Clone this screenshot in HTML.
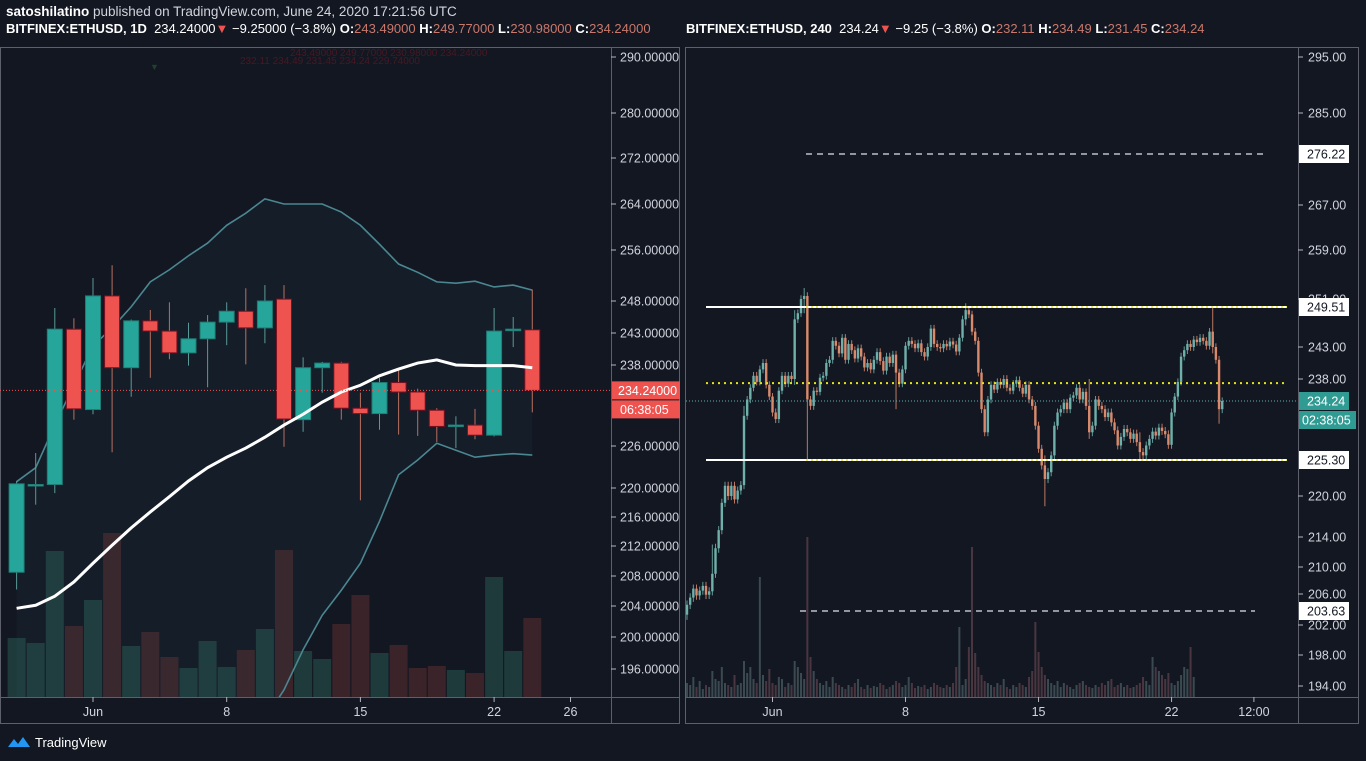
<!DOCTYPE html>
<html><head><meta charset="utf-8">
<style>
html,body{margin:0;background:#131722;width:1366px;height:761px;overflow:hidden;font-family:"Liberation Sans",sans-serif;}
#wrap{position:relative;width:1366px;height:761px;overflow:hidden;}
.hdr{position:absolute;left:6px;color:#d1d4dc;font-size:13.5px;white-space:nowrap;}
.hdr b{color:#fff}
.red{color:#c9786c}
#svg{position:absolute;left:0;top:0}
</style></head>
<body><div id="wrap">
<div class="hdr" style="top:4px"><b>satoshilatino</b> published on TradingView.com, June 24, 2020 17:21:56 UTC</div>
<div class="hdr" style="top:21px;font-weight:bold;color:#fff;font-size:13px">BITFINEX:ETHUSD, 1D&nbsp; <span style="font-weight:normal">234.24000</span><span style="color:#ef5350">▼</span> <span style="font-weight:normal">−9.25000 (−3.8%)</span> O:<span class="red" style="font-weight:normal">243.49000</span> H:<span class="red" style="font-weight:normal">249.77000</span> L:<span class="red" style="font-weight:normal">230.98000</span> C:<span class="red" style="font-weight:normal">234.24000</span></div>
<div class="hdr" style="top:21px;left:686px;font-weight:bold;color:#fff;font-size:13px">BITFINEX:ETHUSD, 240&nbsp; <span style="font-weight:normal">234.24</span><span style="color:#ef5350">▼</span> <span style="font-weight:normal">−9.25 (−3.8%)</span> O:<span class="red" style="font-weight:normal">232.11</span> H:<span class="red" style="font-weight:normal">234.49</span> L:<span class="red" style="font-weight:normal">231.45</span> C:<span class="red" style="font-weight:normal">234.24</span></div>
<svg id="svg" width="1366" height="761" xmlns="http://www.w3.org/2000/svg"></svg>
<div style="position:absolute;left:8px;top:733px;height:18px;color:#fff;font-size:13px;display:flex;align-items:center">
<svg width="22" height="14" style="display:block;margin-right:5px"><path d="M0 12 L6 4 L10 9 L15 2 L22 12 Z" fill="#2196f3"/></svg>TradingView</div>
</div>
<script>
// ---------- LEFT (daily) data ----------
const dOpen =[208.5,220.5,220.5,243.6,231.4,248.8,237.6,244.9,243.3,239.9,242.1,244.7,246.4,243.8,248.3,229.9,237.6,238.3,231.6,230.8,235.4,234.0,231.3,229.0,229.1,227.6,243.4,243.5];
const dClose=[220.6,220.5,243.6,231.5,248.8,237.6,244.9,243.3,239.9,242.1,244.7,246.4,243.8,248.0,230.0,237.6,238.3,231.6,230.8,235.4,234.0,231.3,228.9,229.1,227.6,243.3,243.6,234.24];
const dHigh =[221.0,225.0,246.9,245.3,251.6,253.6,245.1,246.6,247.8,244.6,245.8,247.8,250.0,250.5,250.5,239.2,238.5,238.5,233.9,236.1,237.6,234.5,231.6,230.4,231.5,246.9,245.5,249.77];
const dLow  =[206.2,217.7,219.3,229.9,230.7,225.1,233.3,236.1,238.9,237.9,234.7,241.1,238.1,241.4,225.9,228.1,233.9,229.9,218.3,228.4,227.7,227.5,226.6,225.7,227.0,227.4,240.8,230.98];
const dVol  =[59,54,146,71,97,164,51,65,40,29,56,30,47,68,147,46,38,73,102,44,52,29,31,27,24,120,46,79];
const bbMid =[203.7,204.1,205.3,207.2,209.7,212.1,214.5,216.7,218.8,221.0,222.9,224.4,225.7,227.3,229.1,230.7,232.5,234.0,235.0,236.4,237.4,238.3,238.8,238.0,237.9,237.9,237.9,237.6];
const bbUp  =[220.9,222.9,229.1,235.0,241.0,243.8,247.1,251.0,252.9,255.1,257.2,260.3,262.4,264.9,264.0,264.0,264.0,262.6,260.3,257.0,253.8,252.5,251.0,250.8,251.1,250.2,250.5,249.7];
const bbLow =[186.5,185.3,181.5,179.4,178.4,180.4,181.9,182.4,184.7,186.9,188.6,188.5,189.0,189.7,193.4,198.4,202.8,206.1,209.7,215.4,221.9,224.0,226.4,225.4,224.4,224.7,224.9,224.7];
const lTickVals=[290,280,272,264,256,248,243,238,226,220,216,212,208,204,200,196];
const lTickLabels=["290.00000","280.00000","272.00000","264.00000","256.00000","248.00000","243.00000","238.00000","226.00000","220.00000","216.00000","212.00000","208.00000","204.00000","200.00000","196.00000"];
const lDateLabels=["Jun","8","15","22","26"];
const lDateIdx=[4,11,18,25,29];
const lastPrice=234.24;

// ---------- RIGHT (4h) data ----------
const hClose=[204.5,205.5,206.8,205.8,206.5,207.2,205.9,206.4,209,212.5,215,219,221.5,220,221.5,219.5,220.8,221.6,232,234.5,236.5,238.5,237.5,239.5,
240.5,237,235,232.5,231.5,236,238.5,237.2,238.5,238,247.5,248.5,251,251.5,234.5,233.5,236,235.8,238.2,238.5,240.5,241,
244,243.2,242,244.5,241,243.5,242.5,241.2,242.8,241.5,239.8,240.5,239.5,241,242.2,240.8,239.3,241.5,240.5,241.8,239,237.2,239.5,
243.2,244,243.5,242.8,243.6,242.2,241.5,243,246,243.5,243,242.8,243.5,243.1,243.9,243.4,242.3,244.5,247.5,249,248.3,
245.5,244,239,233,229.5,234.5,237,236.2,237.5,237,238,236.5,236,237.2,237.8,236.5,235.5,237,234.5,233.5,230.5,227,
224.5,222.5,223.5,226,230.5,232.5,233,234,233,234.8,235.2,236.5,234.5,235.8,233.5,229.5,230.5,234.5,233.5,233,231.8,232.5,231,
229.8,227.5,228.8,230,229.5,228.5,229.3,228,226.5,226,227.5,228.5,229.6,229,230.2,229.7,229.2,227.6,232.5,235,237.5,241.5,242.5,
243.5,243,244.2,243.8,244.5,244,243.2,245.5,243,241,233,234.24];
const hFirstOpen=203.2;
const hSpikeIdx =[8,18,34,37,38,66,88,113,127,143,166,168];
const hSpikeHigh=[213,233.5,249,252.8,251.8,241,250.2,226,238,229.5,249.5,241];
const hSpikeLow =[206,226,237,248.5,225.3,233,246.5,218.5,228.5,225.3,242,230.8];
const hVol=[14,12,20,10,16,8,12,10,26,18,16,30,14,12,10,22,12,14,36,24,30,18,14,120,22,16,28,14,12,20,18,10,14,12,36,30,24,18,160,40,
26,18,14,12,16,10,20,14,12,10,8,12,10,14,18,10,8,12,9,11,10,14,12,8,10,12,16,14,10,12,20,14,9,11,10,12,8,10,14,12,10,9,12,10,14,30,
70,12,18,50,150,44,30,22,16,14,12,10,14,12,18,10,8,12,10,14,12,10,20,26,75,45,30,22,18,14,12,16,10,14,12,10,8,12,14,16,12,10,9,
12,10,14,12,16,18,10,12,14,10,12,9,10,12,14,20,16,12,40,30,26,22,18,24,14,12,16,22,30,28,50,20];
const rTickVals=[295,285,276.22,267,259,251,249.51,243,238,234.24,225.30,220,214,210,206,203.63,202,198,194];
const rTickLabels=["295.00","285.00","","267.00","259.00","251.00","","243.00","238.00","","","220.00","214.00","210.00","206.00","","202.00","198.00","194.00"];
const rDateLabels=["Jun","8","15","22","12:00"];
const rDateIdx=[27,69,111,153,179];
const levelSupport=225.30, levelResist=249.51, levelMid=237.3, levelTop=276.22, levelBottom=203.63;

// ---------- axis calibration ----------
const lAnchorsP=[290,280,272,264,256,248,243,238,226,220,216,212,208,204,200,196,150];
const lAnchorsY=[57,113,158,204,250,301,333,365,446,488,517,546,576,606,637,669,1037];
const rAnchorsP=[295,285,276.22,267,259,251,249.51,243,238,234.24,225.30,220,214,210,206,203.63,202,198,194];
const rAnchorsY=[57,113,154,205,250,299,307,347,379,401,460,496,537,567,594,611,625,655,686];
function interp(p,P,Y){for(let k=0;k<P.length-1;k++){const a=P[k],b=P[k+1];if((p<=a&&p>=b)||k===P.length-2){return Y[k]+(p-a)*(Y[k+1]-Y[k])/(b-a);}}return Y[0];}
const yL=p=>interp(p,lAnchorsP,lAnchorsY);
const yLc=p=>Math.min(750,yL(p));
const yR=p=>interp(p,rAnchorsP,rAnchorsY);
const xL=i=>16.6+19.1*i;
const xR=i=>687+3.167*i;

const NS="http://www.w3.org/2000/svg";
const svg=document.getElementById('svg');
function mk(tag,attrs,parent){const e=document.createElementNS(NS,tag);for(const k in attrs)e.setAttribute(k,attrs[k]);(parent||svg).appendChild(e);return e;}
function txt(s,x,y,attrs,parent){const t=mk('text',Object.assign({x:x,y:y,fill:'#d1d4dc','font-size':12,'font-family':'Liberation Sans, sans-serif'},attrs),parent);t.textContent=s;return t;}

const defs=mk('defs',{});
const cl=mk('clipPath',{id:'clipL'},defs);mk('rect',{x:1,y:48,width:610,height:649},cl);
const cr=mk('clipPath',{id:'clipR'},defs);mk('rect',{x:686,y:48,width:612,height:649},cr);

const frame=mk('g',{});


mk('rect',{x:0.5,y:47.5,width:679,height:676,fill:'none',stroke:'#5d606b','stroke-width':1},frame);
mk('line',{x1:611.5,y1:47,x2:611.5,y2:724,stroke:'#5d606b'},frame);
mk('line',{x1:0,y1:697.5,x2:680,y2:697.5,stroke:'#5d606b'},frame);
mk('rect',{x:685.5,y:47.5,width:673,height:676,fill:'none',stroke:'#5d606b'},frame);
mk('line',{x1:1298.5,y1:47,x2:1298.5,y2:724,stroke:'#5d606b'},frame);
mk('line',{x1:685,y1:697.5,x2:1359,y2:697.5,stroke:'#5d606b'},frame);

// ===== LEFT PANE =====
const gL=mk('g',{'clip-path':'url(#clipL)'});


const ghost=mk('g',{opacity:0.5});


txt('243.49000    249.77000    230.98000    234.24000',290,56,{fill:'#7a1a22','font-size':10},ghost);
txt('232.11   234.49   231.45   234.24   229.74000',240,64,{fill:'#7a1a22','font-size':10},ghost);
txt('▼',150,70,{fill:'#2e6b3a','font-size':9},ghost);
dVol.forEach((v,i)=>{const up=dClose[i]>=dOpen[i];const r=mk('rect',{x:xL(i)-9,y:697-v,width:18,height:v,fill:up?'#1e3a3a':'#3a2329'},gL);

});
let pts=bbUp.map((p,i)=>xL(i)+','+yLc(p)).join(' ')+' '+bbLow.map((p,i)=>xL(i)+','+yLc(p)).reverse().join(' ');
const bf=mk('polygon',{points:pts,fill:'rgba(70,140,150,0.06)'},gL);


[[bbUp,'bollinger-upper'],[bbLow,'bollinger-lower']].forEach(([arr,n])=>{const l=mk('polyline',{points:arr.map((p,i)=>xL(i)+','+yLc(p)).join(' '),fill:'none',stroke:'#4b8791','stroke-width':1.6},gL);

});
dOpen.forEach((o,i)=>{const c=dClose[i],up=c>=o;const col=up?'#26a69a':'#ef5350';const x=xL(i);
const g=mk('g',{},gL);


mk('line',{x1:x,y1:yL(dHigh[i]),x2:x,y2:yL(dLow[i]),stroke:up?'#5a9a96':'#b87060','stroke-width':1},g);
const t=Math.min(yL(o),yL(c)),h=Math.max(1.5,Math.abs(yL(o)-yL(c)));
mk('rect',{x:x-7.5,y:t,width:15,height:h,fill:col,stroke:up?'#1f7d75':'#7a1020','stroke-width':1},g);});
const mid=mk('polyline',{points:bbMid.map((p,i)=>xL(i)+','+yLc(p)).join(' '),fill:'none',stroke:'#ffffff','stroke-width':3},gL);


const pl=mk('line',{x1:0,y1:yL(lastPrice),x2:611,y2:yL(lastPrice),stroke:'#ef5350','stroke-width':1,'stroke-dasharray':'1 2'});


lTickVals.forEach((v,i)=>{const y=yL(v);mk('line',{x1:611,y1:y,x2:616,y2:y,stroke:'#b2b5be'});
const t=txt(lTickLabels[i],620,y+4.5,{'font-size':12.5});

});
const lb=mk('g',{});


mk('rect',{x:612,y:yL(lastPrice)-9,width:68,height:18,fill:'#ef5350'},lb);
txt(lastPrice.toFixed(5),618,yL(lastPrice)+4.5,{fill:'#fff','font-size':12.5},lb);
mk('rect',{x:612,y:yL(lastPrice)+10,width:68,height:18,fill:'#ef5350'},lb);
txt('06:38:05',620,yL(lastPrice)+23.5,{fill:'#fff','font-size':12.5},lb);
lDateLabels.forEach((s,k)=>{const x=xL(lDateIdx[k]);mk('line',{x1:x,y1:697,x2:x,y2:702,stroke:'#b2b5be'});
const t=txt(s,x,716,{'text-anchor':'middle','font-size':12.5});

});

// ===== RIGHT PANE =====
const gR=mk('g',{'clip-path':'url(#clipR)'});


hVol.forEach((v,i)=>{const up=i===0?true:hClose[i]>=hClose[i-1];const r=mk('rect',{x:xR(i)-1,y:697-v,width:2,height:v,fill:up?'#3a4a50':'#4a3640'},gR);

});
hClose.forEach((c,i)=>{const o=i===0?hFirstOpen:hClose[i-1];const up=c>=o;const x=xR(i);
let hi=Math.max(o,c)+0.6,lo=Math.min(o,c)-0.6;const k=hSpikeIdx.indexOf(i);if(k>=0){hi=Math.max(hi,hSpikeHigh[k]);lo=Math.min(lo,hSpikeLow[k]);}
const g=mk('g',{},gR);


const col=up?'#6fb0ab':'#d98a6c';
mk('line',{x1:x,y1:yR(hi),x2:x,y2:yR(lo),stroke:col,'stroke-width':1,opacity:0.85},g);
mk('rect',{x:x-1.2,y:Math.min(yR(o),yR(c)),width:2.4,height:Math.max(1,Math.abs(yR(o)-yR(c))),fill:col},g);});
function hline(p,x1,x2,attrs,name){const l=mk('line',Object.assign({x1:x1,y1:yR(p),x2:x2,y2:yR(p)},attrs),gR);

}
hline(levelResist,706,1287,{stroke:'#fff','stroke-width':2},'resistance-line');
hline(levelSupport,706,1287,{stroke:'#fff','stroke-width':2},'support-line');
hline(levelResist,806,1287,{stroke:'#e5e510','stroke-width':1.5,'stroke-dasharray':'2 3'},'resistance-dotted');
hline(levelSupport,806,1287,{stroke:'#e5e510','stroke-width':1.5,'stroke-dasharray':'2 3'},'support-dotted');
hline(levelMid,706,1287,{stroke:'#e5e510','stroke-width':2,'stroke-dasharray':'2 4'},'midrange-line');
hline(levelTop,806,1268,{stroke:'#e0e3eb','stroke-width':1.3,'stroke-dasharray':'6 5'},'target-top-line');
hline(levelBottom,800,1255,{stroke:'#e0e3eb','stroke-width':1.3,'stroke-dasharray':'6 5'},'target-bottom-line');
hline(lastPrice,686,1298,{stroke:'#5fb3ad','stroke-width':1,'stroke-dasharray':'1 2'},'last-price-line');
rTickVals.forEach((v,i)=>{if(!rTickLabels[i])return;const y=yR(v);mk('line',{x1:1298,y1:y,x2:1303,y2:y,stroke:'#b2b5be'});
const t=txt(rTickLabels[i],1308,y+4.5,{'font-size':12.5});

});
[levelTop,levelResist,levelSupport,levelBottom].forEach(v=>{const y=yR(v);const g=mk('g',{});


mk('rect',{x:1299,y:y-9,width:50,height:18,fill:'#fff'},g);
txt(v.toFixed(2),1307,y+4.5,{fill:'#131722','font-size':12.5},g);});
const rb=mk('g',{});


mk('rect',{x:1299,y:yR(lastPrice)-9,width:50,height:18,fill:'#2f9b93'},rb);
txt(lastPrice.toFixed(2),1307,yR(lastPrice)+4.5,{fill:'#fff','font-size':12.5},rb);
mk('rect',{x:1299,y:yR(lastPrice)+10,width:57,height:18,fill:'#2f9b93'},rb);
txt('02:38:05',1302,yR(lastPrice)+23.5,{fill:'#fff','font-size':12.5},rb);
rDateLabels.forEach((s,k)=>{const x=xR(rDateIdx[k]);mk('line',{x1:x,y1:697,x2:x,y2:702,stroke:'#b2b5be'});
const t=txt(s,x,716,{'text-anchor':'middle','font-size':12.5});

});
</script>
</body></html>
